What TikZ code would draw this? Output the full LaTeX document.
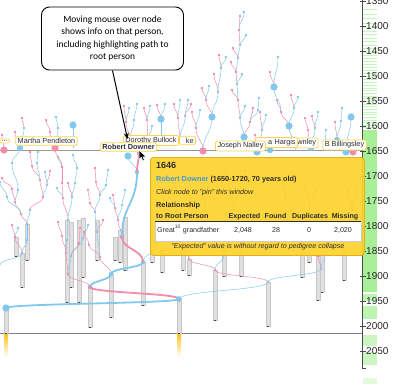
\documentclass[tikz,border=0pt]{standalone}
\usepackage{fontspec}
\setmainfont{Liberation Sans}
\newfontfamily\calloutfont{Carlito}
\usepackage{tikz}
\usetikzlibrary{positioning}
\usetikzlibrary{arrows.meta}
\definecolor{pk}{RGB}{242,140,168}
\definecolor{bl}{RGB}{130,200,238}
\definecolor{tipyellow}{RGB}{253,210,45}
\definecolor{tipedge}{RGB}{230,176,20}
\definecolor{labeledge}{RGB}{250,212,80}
\definecolor{stripgreen}{RGB}{168,240,152}
\definecolor{stripline}{RGB}{196,245,186}
\definecolor{namebl}{RGB}{70,150,215}
\definecolor{txt}{RGB}{45,45,45}

\begin{document}
\begin{tikzpicture}[x=1pt,y=-1pt,
lnk/.style={line width=0.5pt},
hot/.style={line width=1.8pt},
bar/.style={fill=black!12, draw=black!22, line width=0.3pt},
namebox/.style={draw=labeledge, fill=white, rounded corners=1.5pt, line width=0.8pt, inner xsep=2pt, inner ysep=1.6pt, text=txt, font=\fontsize{7.3}{8}\selectfont},
callout/.style={draw=black, fill=white, rounded corners=8pt, line width=0.9pt, align=center, minimum width=142pt, minimum height=63pt, font=\calloutfont\fontsize{9.5}{12.3}\selectfont},
tipbox/.style={draw=tipedge, fill=tipyellow, fill opacity=0.93, rounded corners=3pt, line width=0.8pt, minimum width=214pt, minimum height=98pt, anchor=north west, inner sep=0},
tiptext/.style={anchor=base west, inner sep=0pt, text=txt, font=\fontsize{7.1}{8}\selectfont},
tiphead/.style={anchor=base, inner sep=0pt, text=txt, font=\bfseries\fontsize{7.1}{8}\selectfont},
tipval/.style={anchor=base, inner sep=0pt, text=txt, font=\fontsize{7.1}{8}\selectfont},
yr/.style={anchor=west, inner sep=0pt, text=black!85, font=\fontsize{10}{12}\selectfont}
]
\path[use as bounding box, clip] (0,0) rectangle (395,386);

\fill[stripgreen] (363,130) rectangle (377,292);
\foreach \y in {9,14,18,23,27,31,34,38,41,45,48,52,55,58,61,64,67,70,73,76,79,82,85,88,90,93,96,98,101,104,106,109,112,114,117,120,122,125,127}
  \draw[stripline, line width=0.9pt] (363,\y) -- (377,\y);
\fill[stripgreen!75] (363,294) rectangle (377,301);
\fill[stripgreen!75] (363,306) rectangle (377,319);
\fill[stripgreen!60] (363,335) rectangle (377,346);
\fill[stripgreen!60] (363,352) rectangle (377,365);
\fill[stripgreen!35] (363,378) rectangle (377,384);

\draw[black!70, line width=0.8pt] (362,0) -- (362,368) -- (366,368);
\foreach \yy in {1350,1400,...,2050}{
  \draw[black!70, line width=0.8pt] (360,{1+(\yy-1350)/2}) -- (366,{1+(\yy-1350)/2});
  \node[yr] (y\yy) at (366,{1+(\yy-1350)/2}) {\yy};
}

\draw[black!40, line width=0.6pt] (0,150) -- (362,150);
\draw[black!50, line width=0.8pt] (0,333.5) -- (362,333.5);
\shade[top color=tipyellow!85!orange, bottom color=white] (4,334.5) rectangle (8,357);
\shade[top color=tipyellow!85!orange, bottom color=white] (177,334.5) rectangle (181,357);

\foreach \x/\ya/\yb in {6/308/333, 179/299/333, 90/287/327, 111/274/317, 143/262/305, 22/253/287, 27/224/260, 16/237/256, 67/220/302, 71/222/287, 79/220/302, 83/218/277, 97/220/260, 115/237/260, 120/230/262, 125/217/270, 152/250/262, 162/250/272, 183/250/270, 189/259/275, 215/270/320, 224/255/276, 241/255/276, 268/282/326, 302/255/277, 309/255/262, 318/256/300, 322/255/292, 344/255/280}{
  \draw[bar] (\x-1.8,\ya) rectangle (\x+1.8,\yb);
  \fill[black!75] (\x-1,\yb-0.5) rectangle (\x+1,\yb+0.5);
}

\foreach \xa/\ya/\xb/\yb/\c in {
  0/265/22/253/bl, 22/253/15/237/pk, 22/253/27/240/bl, 15/237/12/225/pk, 15/237/18/228/bl,
  27/240/27/224/bl, 27/224/21/214/pk, 27/224/30/210/bl, 21/214/15/202/pk, 21/214/7/197/bl,
  15/202/12/189/pk, 15/202/18/190/bl, 12/189/2/178/pk, 18/190/12/163/bl, 12/163/20/148/bl,
  7/197/0/182/bl, 30/210/43/197/pk, 43/197/40/180/pk, 43/197/47/185/bl, 47/185/45/172/bl,
  47/185/50/171/pk, 40/180/32/166/pk, 40/180/37/163/bl, 37/163/38/152/bl, 32/166/30/152/pk,
  90/287/68/274/pk, 68/274/66/253/pk, 68/274/71/256/bl, 66/253/62/236/pk, 66/253/67/240/bl,
  71/256/79/243/pk, 71/256/83/238/bl, 67/240/68/220/bl, 62/236/58/222/pk, 68/220/63/198/pk,
  68/220/72/197/bl, 63/198/62/183/pk, 63/198/57/188/bl, 72/197/75/183/bl, 72/197/68/183/pk,
  62/183/62/167/pk, 62/167/58/157/bl, 62/167/55/148/pk, 75/183/77/168/bl, 77/168/73/155/bl,
  73/148/73/125/bl, 79/243/80/228/pk, 83/238/88/225/bl,
  111/274/100/257/pk, 100/257/89/245/pk, 100/257/97/232/bl, 97/232/95/212/bl, 97/232/103/220/pk,
  95/212/90/203/pk, 95/212/100/195/bl, 90/203/88/190/pk, 100/195/106/185/bl, 100/195/96/182/pk,
  106/185/108/170/bl, 96/182/95/168/pk, 89/245/84/232/pk,
  122/237/118/220/pk, 118/220/115/208/pk, 118/220/122/205/bl, 115/208/113/195/pk, 115/208/110/198/bl,
  122/205/125/190/bl, 137/172/128/156/bl,
  179/299/268/282/bl, 268/282/321/269/bl, 268/282/215/270/pk, 215/270/189/259/pk, 215/270/224/255/bl,
  189/259/183/245/pk, 189/259/195/242/bl, 321/269/325/255/bl, 321/269/318/256/pk, 143/262/156/246/bl,
  224/255/222/235/pk, 224/255/230/232/bl, 230/232/233/210/bl, 230/232/226/214/pk, 233/210/240/188/bl,
  233/210/230/190/pk, 240/188/245/170/bl, 230/190/226/172/pk, 241/255/245/232/bl, 241/255/238/236/pk,
  302/255/298/235/pk, 302/255/306/230/bl, 298/235/292/215/bl, 306/230/310/205/pk, 310/205/305/185/bl,
  310/205/316/190/pk, 292/215/285/195/pk, 285/195/282/175/bl, 325/255/330/238/bl, 318/256/315/240/pk,
  344/255/342/236/pk, 344/255/350/232/bl, 350/232/352/210/bl, 352/210/348/190/pk, 352/210/357/188/bl,
  156/246/160/228/bl, 156/246/152/232/pk, 160/228/165/210/bl, 160/228/170/215/pk, 183/245/180/225/pk,
  195/242/198/222/bl, 198/222/205/205/bl, 198/222/192/205/pk, 205/205/208/188/bl, 192/205/188/188/pk,
  180/225/176/205/pk, 176/205/172/188/bl, 165/210/162/190/bl,
  20/148/15/132/pk, 20/148/24/128/bl, 24/128/22/118/pk, 55/148/50/132/pk, 55/148/58/128/bl,
  50/132/46/120/pk, 58/128/56/117/bl, 4/150/2/135/pk,
  130/140/126/122/pk, 130/140/134/120/bl, 126/122/124/106/pk, 126/122/129/108/bl, 134/120/137/104/bl,
  148/140/147/120/pk, 148/140/152/126/bl, 147/120/144/108/pk, 147/120/150/106/bl,
  161/140/161/119/bl, 161/119/157/105/pk, 161/119/165/104/bl,
  180/140/178/118/pk, 180/140/185/116/bl, 178/118/174/104/pk, 178/118/180/100/bl, 185/116/188/100/bl,
  185/116/191/104/pk,
  203/151/212/117/bl, 203/151/196/128/pk, 212/117/218/92/bl, 212/117/206/100/pk, 218/92/221/68/bl,
  218/92/214/74/pk, 206/100/202/88/pk, 206/100/209/86/bl, 196/128/192/112/pk, 196/128/200/110/bl,
  221/68/219/55/pk, 221/68/226/57/bl,
  244/137/240/118/bl, 244/137/250/122/pk, 240/118/238/100/pk, 240/118/245/106/bl, 238/100/237/84/bl,
  238/100/232/90/pk, 237/84/236/72/pk, 237/84/242/74/bl, 236/72/238/58/bl, 236/72/231/62/pk,
  238/58/240/45/bl, 238/58/233/48/pk, 240/45/239/30/pk, 240/45/246/35/bl, 239/30/240/16/pk,
  239/30/244/12/bl, 250/122/253/108/pk, 250/122/258/110/bl, 258/110/259/98/bl,
  296/150/289/126/bl, 289/126/281/112/pk, 289/126/294/108/bl, 281/112/277/100/pk, 281/112/274/87/bl,
  274/87/278/57/bl, 274/87/270/72/pk, 294/108/291/95/pk, 294/108/298/97/bl,
  257/152/255/135/pk, 257/152/262/130/bl, 262/130/260/112/pk, 262/130/266/115/bl,
  311/148/308/130/pk, 311/148/315/128/bl, 315/128/318/112/bl, 315/128/312/116/pk, 308/130/305/118/pk,
  337/140/335/122/pk, 337/140/341/121/bl, 341/121/342/108/bl, 346/152/351/117/bl, 325/148/326/130/bl}{
  \draw[\c, lnk] (\xa,\ya) .. controls (\xa,{(\ya+\yb)/2}) and (\xb,{(\ya+\yb)/2}) .. (\xb,\yb);
  \fill[\c] (\xb,\yb) circle (1.3pt);
}

\foreach \xa/\ya/\xb/\yb/\c in {6/308/179/299/bl, 179/299/90/287/pk, 90/287/111/274/bl, 111/274/143/262/bl, 143/262/122/237/pk, 122/237/137/172/bl, 137/172/139/153/pk}{
  \draw[\c, hot] (\xa,\ya) .. controls (\xa,{(\ya+\yb)/2}) and (\xb,{(\ya+\yb)/2}) .. (\xb,\yb);
  \fill[\c] (\xb,\yb) circle (2.2pt);
}

\foreach \x/\y/\r/\c in {73/125/3.6/bl, 161/119/3.6/bl, 212/117/3.6/bl, 244/137/3.6/bl, 274/87/3.6/bl, 289/126/3.6/bl, 351/117/3.6/bl, 128/156/3.6/bl, 4/150/3.6/pk, 20/148/3.2/bl, 55/148/3.6/pk, 203/151/3.6/pk, 257/152/3.6/bl, 270/150/3.2/bl, 311/148/3.2/bl, 337/140/3.2/bl, 346/152/3.6/bl, 353/152/3.6/pk, 6/308/3.6/bl, 179/299/2.8/bl}
  \fill[\c] (\x,\y) circle (\r pt);

\node[namebox, anchor=east] (dots) at (10,141) {...};
\node[namebox] (martha) at (46.5,141) {Martha Pendleton};
\node[namebox, anchor=east, text width=12pt, align=right] (ke) at (196,140.5) {ke};
\node[namebox] (dorothy) at (151,140.5) {Dorothy Bullock};
\node[namebox, anchor=west] (wnley) at (295,143) {wnley};
\node[namebox, anchor=east, text width=38pt, align=right] (hargis) at (298,142.5) {a Hargis};
\node[namebox] (joseph) at (240.5,146) {Joseph Nalley};
\node[namebox] (billing) at (344.5,145) {B Billingsley};
\node[namebox, font=\bfseries\fontsize{7.3}{8}\selectfont] (robert) at (128.5,147) {Robert Downer};

\node[tipbox] (tip) at (150,157) {};
\node[tiptext, font=\bfseries\fontsize{9}{10}\selectfont] (tipyear) at (156,168.5) {1646};
\node[tiptext, font=\bfseries\fontsize{7.3}{8}\selectfont] (tipname) at (156,181) {\textcolor{namebl}{Robert Downer} (1650-1720, 70 years old)};
\node[tiptext, font=\itshape\fontsize{7.2}{8}\selectfont] (tippin) at (156,194.5) {Click node to "pin" this window};
\node[tiptext, font=\bfseries\fontsize{7.3}{8}\selectfont] (tiprel) at (156,207) {Relationship};
\node[tiptext, font=\bfseries\fontsize{7.3}{8}\selectfont] (tiproot) at (156,218) {to Root Person};
\node[tiphead] (hexp) at (244.5,218) {Expected};
\node[tiphead] (hfound) at (275.5,218) {Found};
\node[tiphead] (hdup) at (310,218) {Duplicates};
\node[tiphead] (hmiss) at (345,218) {Missing};
\node[draw=black!20, fill=white, line width=0.4pt, minimum width=206pt, minimum height=20pt, anchor=north west, inner sep=0] (tiprow) at (155,221) {};
\draw[txt, line width=0.7pt] (tiprow.north west) -- (tiprow.north east);
\node[tiptext] (vrel) at (157,232) {Great\textsuperscript{10} grandfather};
\node[tipval] (vexp) at (243,232) {2,048};
\node[tipval] (vfound) at (276,232) {28};
\node[tipval] (vdup) at (309,232) {0};
\node[tipval] (vmiss) at (343,232) {2,020};
\node[tipval, font=\itshape\fontsize{7.1}{8}\selectfont] (tipnote) at (258,248) {"Expected" value is without regard to pedigree collapse};

\node[callout] (note) at (112.5,38.5) {Moving mouse over node\\shows info on that person,\\including highlighting path to\\root person};
\coordinate (aim) at (127.5,139);
\draw[-{Stealth[length=6pt,width=5pt]}, line width=1pt] (note.south) -- (aim);

\filldraw[fill=black, draw=white, line width=0.5pt] (139,150) -- (139,159.5) -- (141.3,157.3) -- (142.8,160.8) -- (144.3,160.1) -- (142.9,156.8) -- (146,156.8) -- cycle;
\end{tikzpicture}
\end{document}
